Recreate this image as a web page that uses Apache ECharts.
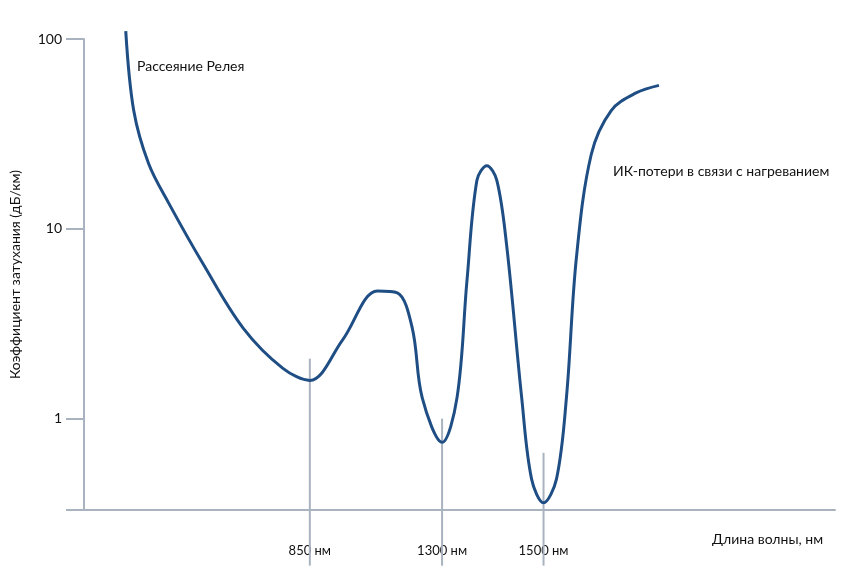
<!DOCTYPE html>
<html><head><meta charset="utf-8">
<script src="https://cdn.jsdelivr.net/npm/echarts@6/dist/echarts.min.js"></script>
<style>html,body{margin:0;background:#fff}#c{width:867px;height:574px}</style>
</head><body><div id="c"></div>
<script>
const xPos = [5.56,6.62,8.61,11.26,15.89,21.19,26.49,30.07,34.44,39.07,41.72,43.71,45.03,47.68,49.67,50.99,52.32,53.64,54.97,56.29,58.28,59.6,61.19,62.91,64.24,65.56,67.55,70.2,73.51,76.56];
const attenuation = [110,42,22,13.7,6.5,3.0,1.84,1.59,2.6,4.7,4.6,3.0,1.29,0.75,1.29,5.3,18,21.5,18,8.1,1.29,0.48,0.36,0.48,1.29,7.0,24.7,42,52,57];
const xTickPos = [30.07,47.68,61.19];
const xTickLabels = ['850 нм','1300 нм','1500 нм'];
const markerTops = [2.07,1,0.66];
const markerBottom = 0.168;
const yTicks = [1,10,100];

const chart = echarts.init(document.getElementById('c'));
const font = 'Lato, "Open Sans", sans-serif';
const gray = '#a9b3c0';
const markerSeries = xTickPos.map((x,i)=>({type:'line',data:[[x,markerTops[i]],[x,markerBottom]],
  showSymbol:false,clip:false,silent:true,z:1,lineStyle:{color:gray,width:2}}));
chart.setOption({
  animation:false,
  grid:{left:80,right:32,top:39,bottom:64},
  xAxis:{type:'value',min:0,max:100,
    axisLine:{lineStyle:{color:gray,width:2}},
    axisTick:{show:false},splitLine:{show:false},
    axisLabel:{customValues:xTickPos,formatter:v=>xTickLabels[xTickPos.indexOf(v)]??'',margin:34,color:'#111',fontFamily:font,fontSize:13},
    name:'Длина волны, нм',nameLocation:'end',nameGap:-123,
    nameTextStyle:{verticalAlign:'top',padding:[22,0,0,0],color:'#111',fontFamily:font,fontSize:14}},
  yAxis:{type:'log',min:0.33,max:100,
    axisLine:{show:true,lineStyle:{color:gray,width:2}},
    axisTick:{show:true,length:18,lineStyle:{color:gray,width:2}},
    splitLine:{show:false},
    axisLabel:{customValues:yTicks,color:'#111',fontFamily:font,fontSize:14,margin:22},
    name:'Коэффициент затухания (дБ/км)',nameLocation:'middle',nameGap:62,
    nameTextStyle:{color:'#111',fontFamily:font,fontSize:14}},
  series:[...markerSeries,{type:'line',data:xPos.map((x,i)=>[x,attenuation[i]]),smooth:0.35,showSymbol:false,clip:false,z:3,
    lineStyle:{color:'#1f4e85',width:3}}],
  graphic:[
    {type:'text',left:137,top:59,style:{text:'Рассеяние Релея',fill:'#111',font:'14px '+font}},
    {type:'text',left:613,top:164,style:{text:'ИК-потери в связи с нагреванием',fill:'#111',font:'14px '+font}}
  ]
});
</script></body></html>
